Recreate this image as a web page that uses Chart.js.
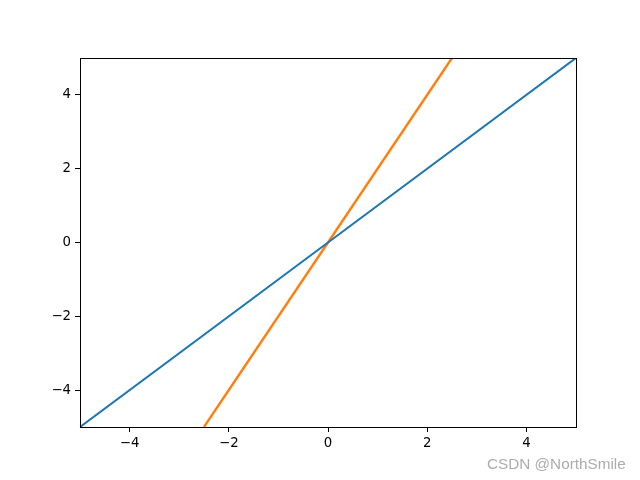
<!DOCTYPE html>
<html>
<head>
<meta charset="utf-8">
<script src="https://cdn.jsdelivr.net/npm/chart.js@4"></script>
<style>
  body { margin: 0; background: #fff; }
  #wrap { position: relative; width: 640px; height: 480px; }
  #mark { position: absolute; left: 487px; top: 455px; font: 15.3px "Liberation Sans", Arial, sans-serif; color: #acacac; }
</style>
</head>
<body>
<div id="wrap">
  <canvas id="chart" width="640" height="480"></canvas>
  <div id="mark">CSDN @NorthSmile</div>
</div>
<script>
// Valeurs
const lineX1 = [-5, 0, 5];
const lineY1 = [-5, 0, 5];
const lineX2 = [-2.5, 0, 2.5];
const lineY2 = [-5, 0, 5];
const xTicks = [-4, -2, 0, 2, 4];
const yTicks = [-4, -2, 0, 2, 4];

function toPoints(xs, ys) {
  return xs.map((x, i) => ({ x: x, y: ys[i] }));
}

function fmt(v) {
  return v < 0 ? '\u2212' + Math.abs(v) : String(v);
}

// Cadre noir autour de la zone de tracé
const boxPlugin = {
  id: 'box',
  afterDraw(chart) {
    const a = chart.chartArea;
    const ctx = chart.ctx;
    ctx.save();
    ctx.strokeStyle = '#000';
    ctx.lineWidth = 1;
    ctx.strokeRect(Math.round(a.left) + 0.5, Math.round(a.top) + 0.5, Math.round(a.right - a.left), Math.round(a.bottom - a.top));
    ctx.restore();
  }
};

const tickFont = { family: 'DejaVu Sans', size: 13.3 };

new Chart(document.getElementById('chart'), {
  type: 'scatter',
  data: {
    datasets: [
      { data: toPoints(lineX1, lineY1), showLine: true, borderColor: '#1f77b4', borderWidth: 2.1, pointRadius: 0 },
      { data: toPoints(lineX2, lineY2), showLine: true, borderColor: '#ff7f0e', borderWidth: 2.4, pointRadius: 0 }
    ]
  },
  plugins: [boxPlugin],
  options: {
    responsive: false,
    animation: false,
    layout: { padding: { left: 0, top: 58, right: 64, bottom: 0 } },
    plugins: { legend: { display: false }, tooltip: { enabled: false } },
    scales: {
      x: {
        type: 'linear', min: -5, max: 5,
        afterBuildTicks: s => { s.ticks = xTicks.map(v => ({ value: v })); },
        afterFit: s => { s.height = 53; },
        border: { display: false },
        grid: { drawOnChartArea: false, drawTicks: true, tickLength: 5, color: '#000' },
        ticks: { color: '#000', font: tickFont, padding: 4, maxRotation: 0, callback: fmt }
      },
      y: {
        type: 'linear', min: -5, max: 5,
        afterBuildTicks: s => { s.ticks = yTicks.map(v => ({ value: v })); },
        afterFit: s => { s.width = 80; },
        border: { display: false },
        grid: { drawOnChartArea: false, drawTicks: true, tickLength: 5, color: '#000' },
        ticks: { color: '#000', font: tickFont, padding: 4, callback: fmt }
      }
    }
  }
});
</script>
</body>
</html>
